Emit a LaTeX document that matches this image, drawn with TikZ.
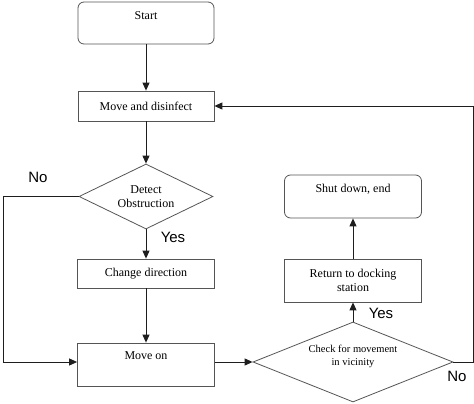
\documentclass[tikz,border=0pt]{standalone}
\usepackage{fontspec}
\setmainfont{Liberation Serif}
\setsansfont{Liberation Sans}
\usetikzlibrary{shapes.geometric, arrows.meta, positioning}
\definecolor{mydark}{RGB}{30,30,30}
\definecolor{myedge}{RGB}{85,85,85}
\tikzset{
  block/.style={rectangle, draw=myedge, fill=white,
    minimum width=137pt, minimum height=30pt, align=center,
    font=\fontsize{12}{14}\selectfont, line width=0.8pt},
  roundblock/.style={block, rounded corners=6pt},
  decision/.style={diamond, draw=myedge, fill=white, aspect=2,
    inner sep=0pt, align=center,
    font=\fontsize{12}{14}\selectfont, line width=0.8pt},
  arrow/.style={-{Triangle[length=8pt, width=7pt]}, line width=0.9pt, color=mydark},
  answer/.style={font=\sffamily\fontsize{15}{17}\selectfont}
}
\begin{document}
\begin{tikzpicture}[x=10pt, y=10pt]
  \useasboundingbox (0,0) rectangle (47.4,40.4);

  % left column
  \node[roundblock, minimum width=136pt, inner ysep=0pt,
    text height=18pt, text depth=24pt] (start) at (14.6,38.1) {Start};
  \node[block, minimum width=136pt] (movedis) at (14.6,29.8) {Move and disinfect};
  \node[decision, minimum width=134pt, minimum height=65pt] (detect) at (14.6,20.75)
    {Detect\\Obstruction};
  \node[block, minimum height=29pt] (change) at (14.6,13.05) {Change direction};
  \node[block, inner ysep=0pt, text height=17pt, text depth=26pt] (moveon)
    at (14.6,3.95) {Move on};

  % right column
  \node[decision, minimum width=200pt, minimum height=80pt,
    font=\fontsize{10.5}{13}\selectfont] (check) at (35.3,4.2)
    {Check for movement\\in vicinity\\~};
  \node[block, minimum height=43pt] (return) at (35.3,12.35) {Return to docking\\station};
  \node[roundblock, inner ysep=0pt, text height=18pt, text depth=25pt] (shut)
    at (35.3,20.75) {Shut down, end};

  % answers
  \node[answer] (noA) at (3.8,22.7) {No};
  \node[answer] (yesA) at (17.3,16.7) {Yes};
  \node[answer] (yesB) at (38.1,9.1) {Yes};
  \node[answer] (noB) at (45.7,2.8) {No};

  % loop corners
  \coordinate (noleft) at (0.3,4.2);
  \coordinate (noright) at (47.3,29.8);

  % connectors
  \draw[arrow] (start) -- (movedis);
  \draw[arrow] (movedis) -- (detect);
  \draw[arrow] (detect) -- (change);
  \draw[arrow] (change) -- (moveon);
  \draw[arrow] (moveon.east |- check.west) -- (check.west);
  \draw[arrow] (check) -- (return);
  \draw[arrow] (return) -- (shut);
  \draw[arrow] (detect.west) -| (noleft) -- (noleft -| moveon.west);
  \draw[arrow] (check.east) -| (noright) -- (movedis.east);
\end{tikzpicture}
\end{document}
